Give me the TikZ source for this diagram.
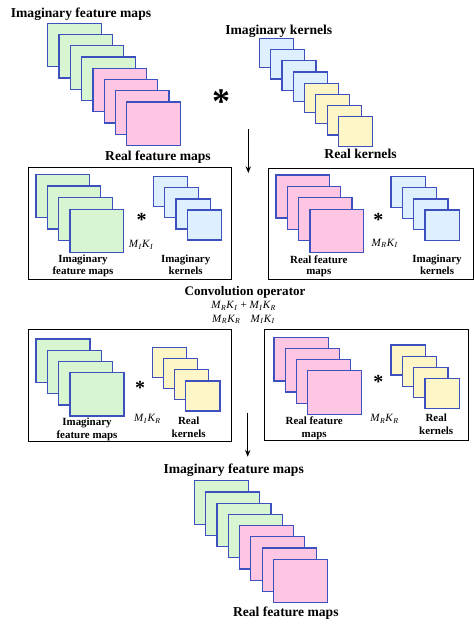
\documentclass[tikz,border=0pt]{standalone}
\usepackage{fontspec}
\setmainfont{Liberation Serif}
\usetikzlibrary{arrows.meta}
\definecolor{fmgreen}{RGB}{214,245,208}
\definecolor{fmpink}{RGB}{255,198,228}
\definecolor{kblue}{RGB}{222,240,255}
\definecolor{kyellow}{RGB}{255,246,200}
\definecolor{fmblue}{RGB}{60,80,190}
\newcommand\MK[2]{\textit{M}\textsubscript{\textit{#1}}\textit{K}\textsubscript{\textit{#2}}}
\newcommand\rectstack[7]{%
  \foreach \c [count=\i from 0] in {#7}{%
    \draw[fmrect, fill=\c] ({#1+\i*#5},{#2+\i*#6}) rectangle ++(#3,#4);
  }}
\tikzset{
  fmrect/.style={draw=fmblue, line width=0.9pt},
  biglbl/.style={font=\bfseries\fontsize{10.2}{12}\selectfont, inner sep=0, anchor=base},
  sublbl/.style={font=\bfseries\fontsize{8.2}{10}\selectfont, inner sep=0, anchor=base},
  oplbl/.style={font=\bfseries\fontsize{9.8}{12}\selectfont, inner sep=0, anchor=base},
  mathlbl/.style={font=\fontsize{8.3}{10}\selectfont, inner sep=0},
  bigstar/.style={font=\bfseries\fontsize{27}{30}\selectfont, inner sep=0},
  smallstar/.style={font=\bfseries\fontsize{15}{17}\selectfont, inner sep=0},
  panel/.style={draw=black, line width=0.75pt},
  flowarrow/.style={-{Stealth[length=5pt,width=4pt]}, line width=0.8pt},
}
\begin{document}
\begin{tikzpicture}[x=0.75pt,y=-0.75pt]
\fill[white] (0,0) rectangle (474,628);
\useasboundingbox (0,0) rectangle (474,628);

% ---------- top ----------
\rectstack{47.7}{23.3}{53.5}{43.5}{11.3}{11.25}{fmgreen,fmgreen,fmgreen,fmgreen,fmpink,fmpink,fmpink,fmpink}
\rectstack{259.3}{38.3}{34}{29.5}{11.3}{11.2}{kblue,kblue,kblue,kblue,kyellow,kyellow,kyellow,kyellow}
\node[biglbl] (tifm) at (81,17) {Imaginary feature maps};
\node[biglbl] (tik) at (278.8,34) {Imaginary kernels};
\node[biglbl] (trfm) at (158,160) {Real feature maps};
\node[biglbl] (trk) at (360.5,158) {Real kernels};
\node[bigstar] (tstar) at (221,101.5) {*};

\coordinate (a1s) at (248.3,129);
\coordinate (a1e) at (248.3,173);
\draw[flowarrow] (a1s) -- (a1e);

% ---------- panel 1 ----------
\draw[panel] (28.3,167.3) rectangle (231.7,279);
\rectstack{36}{174.3}{53.5}{43}{11.3}{11.6}{fmgreen,fmgreen,fmgreen,fmgreen}
\rectstack{153.3}{176.7}{34.2}{30}{11.3}{11.1}{kblue,kblue,kblue,kblue}
\node[smallstar] (s1) at (141.7,220) {*};
\node[mathlbl] (m1) at (141.3,245) {\MK{I}{I}};
\node[sublbl] (p1a) at (83,262) {Imaginary};
\node[sublbl] (p1b) at (83,274.5) {feature maps};
\node[sublbl] (p1c) at (185.7,262) {Imaginary};
\node[sublbl] (p1d) at (185.7,274.5) {kernels};

% ---------- panel 2 ----------
\draw[panel] (268.3,168.3) rectangle (473.3,279.3);
\rectstack{276}{175}{53.3}{43}{11.33}{11.43}{fmpink,fmpink,fmpink,fmpink}
\rectstack{391}{176.7}{34.3}{30.5}{11.33}{11.1}{kblue,kblue,kblue,kblue}
\node[smallstar] (s2) at (378.3,220) {*};
\node[mathlbl] (m2) at (385,243.3) {\MK{R}{I}};
\node[sublbl] (p2a) at (318.8,263) {Real feature};
\node[sublbl] (p2b) at (318.8,274.5) {maps};
\node[sublbl] (p2c) at (437,262) {Imaginary};
\node[sublbl] (p2d) at (437,274) {kernels};

% ---------- operator ----------
\node[oplbl] (op) at (245,295) {Convolution operator};
\node[mathlbl] (f1) at (243.7,305.7) {\MK{R}{I} + \MK{I}{R}};
\node[mathlbl] (f2) at (243.7,319.3) {\MK{R}{R}\hspace{0.9em}\MK{I}{I}};

% ---------- panel 3 ----------
\draw[panel] (28.3,329.3) rectangle (231.7,441);
\rectstack{36}{339}{54}{43.7}{11.33}{11.1}{fmgreen,fmgreen,fmgreen,fmgreen}
\rectstack{152.3}{347.3}{34.3}{30}{11.13}{11.23}{kyellow,kyellow,kyellow,kyellow}
\node[smallstar] (s3) at (140,387.5) {*};
\node[mathlbl] (m3) at (147.5,419) {\MK{I}{R}};
\node[sublbl] (p3a) at (87,425) {Imaginary};
\node[sublbl] (p3b) at (87,438) {feature maps};
\node[sublbl] (p3c) at (188.7,424) {Real};
\node[sublbl] (p3d) at (188.7,437) {kernels};

% ---------- panel 4 ----------
\draw[panel] (264.3,329.3) rectangle (468.3,440.7);
\rectstack{274}{337.3}{54.4}{43.6}{11.1}{11.13}{fmpink,fmpink,fmpink,fmpink}
\rectstack{391}{345}{34.3}{30}{11.33}{11.1}{kyellow,kyellow,kyellow,kyellow}
\node[smallstar] (s4) at (378.3,382) {*};
\node[mathlbl] (m4) at (384.5,419) {\MK{R}{R}};
\node[sublbl] (p4a) at (314.2,424) {Real feature};
\node[sublbl] (p4b) at (314.2,437.5) {maps};
\node[sublbl] (p4c) at (436.2,421) {Real};
\node[sublbl] (p4d) at (436.2,434.5) {kernels};

\coordinate (a2s) at (247.7,412.7);
\coordinate (a2e) at (247.7,456.7);
\draw[flowarrow] (a2s) -- (a2e);

% ---------- bottom ----------
\rectstack{194.3}{480.7}{54}{43.5}{11.3}{11.2}{fmgreen,fmgreen,fmgreen,fmgreen,fmpink,fmpink,fmpink,fmpink}
\node[biglbl] (bifm) at (233.7,473.3) {Imaginary feature maps};
\node[biglbl] (brfm) at (285.8,616.7) {Real feature maps};
\end{tikzpicture}
\end{document}
